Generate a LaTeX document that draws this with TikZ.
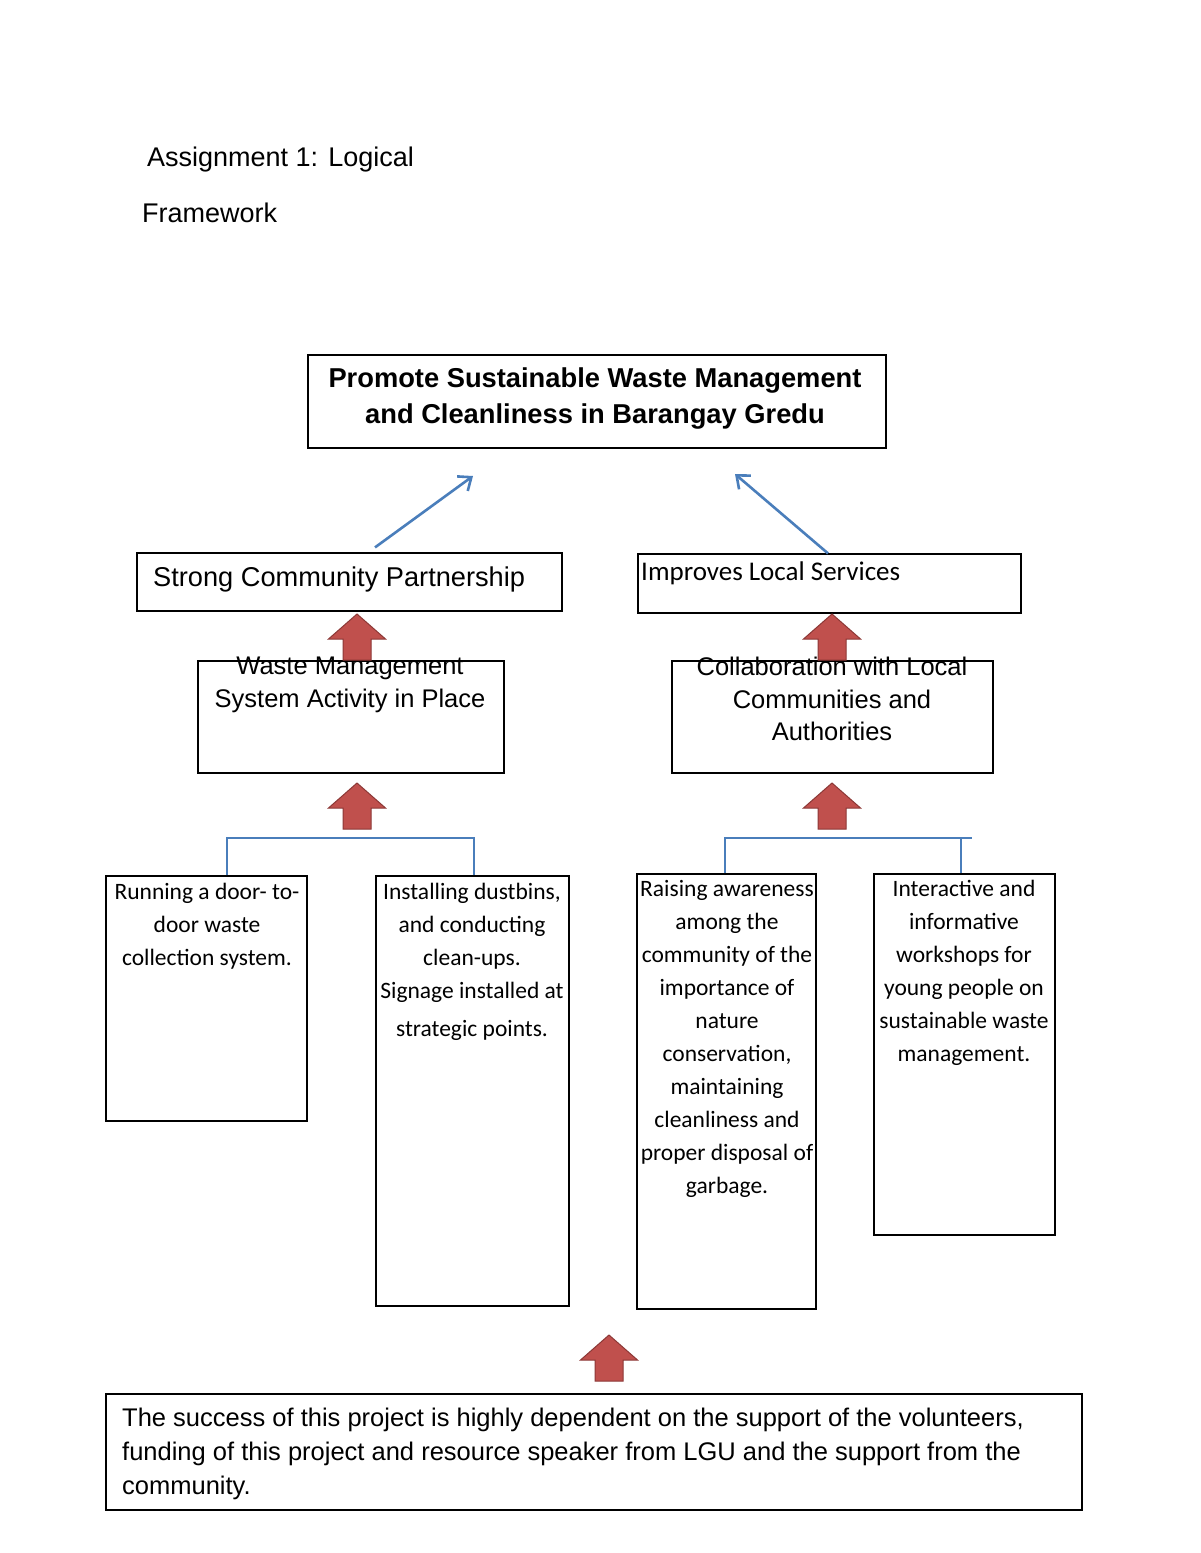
\documentclass[tikz,border=0pt]{standalone}
\usepackage{fontspec}
\setmainfont{Liberation Sans}
\newfontfamily\calibri{Carlito}
\usepackage{xcolor}
\usetikzlibrary{arrows.meta}
\definecolor{linkblue}{HTML}{4A7EBB}
\definecolor{arrowred}{HTML}{C0504D}
\definecolor{arrowedge}{HTML}{8C3836}
\tikzset{
  box/.style={draw, line width=1.2pt, inner sep=0pt},
  arialtext/.style={inner sep=0pt, font=\fontsize{25.5}{32.5}\selectfont, align=center},
  calibritext/.style={inner sep=0pt, font=\calibri\fontsize{23.5}{33}\selectfont, align=center},
  bluearrow/.style={linkblue, line width=2.6pt, -{Straight Barb[length=11pt,width=18pt]}},
  blueline/.style={linkblue, line width=2.4pt},
  uparrow/.pic={
    \draw[arrowedge, fill=arrowred, line width=1pt]
      (-14,0) -- (-14,-21) -- (-28.5,-21) -- (0,-46) -- (28.5,-21) -- (14,-21) -- (14,0) -- cycle;
  }
}
\begin{document}
\begin{tikzpicture}[x=1pt, y=-1pt]
  \useasboundingbox[fill=white] (0,0) rectangle (1200,1553);

  % Heading
  \node[anchor=west, inner sep=0pt, font=\fontsize{27}{30}\selectfont] (head1) at (147,160) {Assignment 1: Logical};
  \node[anchor=west, inner sep=0pt, font=\fontsize{27}{30}\selectfont] (head2) at (142,213) {Framework};

  % Goal
  \node[box, minimum width=578, minimum height=93] (goal) at (597,401.5) {};
  \node[arialtext, font=\bfseries\fontsize{27.3}{36}\selectfont] (goaltxt) at (595,398) {Promote Sustainable Waste Management\\and Cleanliness in Barangay Gredu};

  % Outcomes
  \node[box, minimum width=425, minimum height=58] (scp) at (349.5,582) {};
  \node[anchor=west, inner sep=0pt, font=\fontsize{27.2}{32}\selectfont] (scptxt) at (153,579) {Strong Community Partnership};
  \node[box, minimum width=383, minimum height=59] (ils) at (829.5,583.5) {};
  \node[anchor=west, inner sep=0pt, font=\calibri\fontsize{27}{30}\selectfont] (ilstxt) at (641,573) {Improves Local Services};

  \coordinate (g1) at (473,476);
  \coordinate (g2) at (735,474);
  \draw[bluearrow] ([xshift=25.5pt, yshift=5pt]scp.north) -- (g1);
  \draw[bluearrow] ([xshift=-1.5pt]ils.north) -- (g2);

  % Outputs
  \node[box, minimum width=306, minimum height=112] (wms) at (351,717) {};
  \node[arialtext, anchor=north] (wmstxt) at (350,657) {Waste Management\\System Activity in Place};
  \node[box, minimum width=321, minimum height=112] (col) at (832.5,717) {};
  \node[arialtext, anchor=north] (coltxt) at (832,657) {Collaboration with Local\\Communities and\\Authorities};

  \pic at (357,660) {uparrow};
  \pic at (832,660) {uparrow};
  \pic at (357,829) {uparrow};
  \pic at (832,829) {uparrow};

  % Activities
  \node[box, minimum width=201, minimum height=245] (run) at (206.5,998.5) {};
  \node[calibritext, anchor=north] (runtxt) at (207,883) {Running a door- to-\\door waste\\collection system.};
  \node[box, minimum width=193, minimum height=430] (inst) at (472.5,1091) {};
  \node[calibritext, anchor=north] (insttxt) at (472,883) {Installing dustbins,\\and conducting\\clean-ups.\\Signage installed at\\[5pt]strategic points.};
  \node[box, minimum width=179, minimum height=435] (raise) at (726.5,1091.5) {};
  \node[calibritext, anchor=north] (raisetxt) at (727,880) {Raising awareness\\among the\\community of the\\importance of\\nature\\conservation,\\maintaining\\cleanliness and\\proper disposal of\\garbage.};
  \node[box, minimum width=181, minimum height=361] (work) at (964.5,1054.5) {};
  \node[calibritext, anchor=north] (worktxt) at (964,880) {Interactive and\\informative\\workshops for\\young people on\\sustainable waste\\management.};

  \coordinate (rend) at (972,838);
  \draw[blueline] ([xshift=20.5pt]run.north) |- ([xshift=1.5pt]inst.north |- rend) -- ([xshift=1.5pt]inst.north);
  \draw[blueline] ([xshift=-1.5pt]raise.north) |- (rend);
  \draw[blueline] ([xshift=-3.5pt]work.north) -- ([xshift=-3.5pt]work.north |- rend);

  % Assumption
  \pic at (609,1381) {uparrow};
  \node[box, minimum width=976, minimum height=116] (assum) at (594,1452) {};
  \node[anchor=north west, inner sep=0pt, align=left, font=\fontsize{25.5}{34}\selectfont] (assumtxt) at (122,1408) {The success of this project is highly dependent on the support of the volunteers,\\funding of this project and resource speaker from LGU and the support from the\\community.};
\end{tikzpicture}
\end{document}
